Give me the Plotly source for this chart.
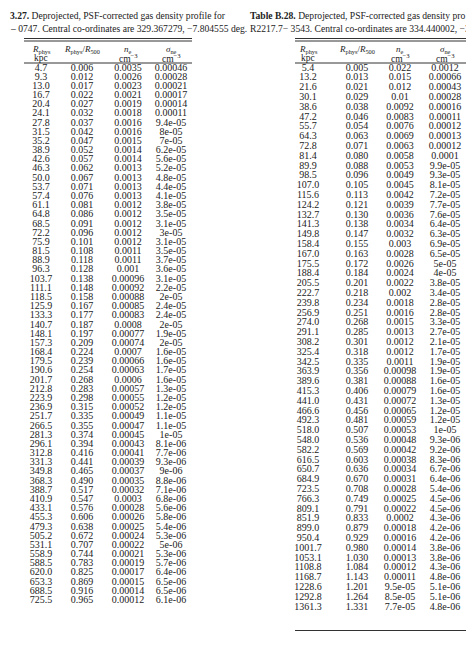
import plotly.graph_objects as go

# Table B.27 (left)
r_kpc_a = ["4.7", "9.3", "13.0", "16.7", "20.4", "24.1", "27.8", "31.5", "35.2", "38.9", "42.6", "46.3", "50.0",
           "53.7", "57.4", "61.1", "64.8", "68.5", "72.2", "75.9", "81.5", "88.9", "96.3", "103.7", "111.1", "118.5",
           "125.9", "133.3", "140.7", "148.1", "157.3", "168.4", "179.5", "190.6", "201.7", "212.8", "223.9", "236.9",
           "251.7", "266.5", "281.3", "296.1", "312.8", "331.3", "349.8", "368.3", "388.7", "410.9", "433.1", "455.3",
           "479.3", "505.2", "531.1", "558.9", "588.5", "620.0", "653.3", "688.5", "725.5"]
r_r500_a = ["0.006", "0.012", "0.017", "0.022", "0.027", "0.032", "0.037", "0.042", "0.047", "0.052", "0.057", "0.062",
            "0.067", "0.071", "0.076", "0.081", "0.086", "0.091", "0.096", "0.101", "0.108", "0.118", "0.128", "0.138",
            "0.148", "0.158", "0.167", "0.177", "0.187", "0.197", "0.209", "0.224", "0.239", "0.254", "0.268", "0.283",
            "0.298", "0.315", "0.335", "0.355", "0.374", "0.394", "0.416", "0.441", "0.465", "0.490", "0.517", "0.547",
            "0.576", "0.606", "0.638", "0.672", "0.707", "0.744", "0.783", "0.825", "0.869", "0.916", "0.965"]
ne_a = ["0.0035", "0.0026", "0.0023", "0.0021", "0.0019", "0.0018", "0.0016", "0.0016", "0.0015", "0.0014", "0.0014",
        "0.0013", "0.0013", "0.0013", "0.0013", "0.0012", "0.0012", "0.0012", "0.0012", "0.0012", "0.0011", "0.0011",
        "0.001", "0.00096", "0.00092", "0.00088", "0.00085", "0.00083", "0.0008", "0.00077", "0.00074", "0.0007",
        "0.00066", "0.00063", "0.0006", "0.00057", "0.00055", "0.00052", "0.00049", "0.00047", "0.00045", "0.00043",
        "0.00041", "0.00039", "0.00037", "0.00035", "0.00032", "0.0003", "0.00028", "0.00026", "0.00025", "0.00024",
        "0.00022", "0.00021", "0.00019", "0.00017", "0.00015", "0.00014", "0.00012"]
sig_a = ["0.00046", "0.00028", "0.00021", "0.00017", "0.00014", "0.00011", "9.4e-05", "8e-05", "7e-05", "6.2e-05",
         "5.6e-05", "5.2e-05", "4.8e-05", "4.4e-05", "4.1e-05", "3.8e-05", "3.5e-05", "3.1e-05", "3e-05", "3.1e-05",
         "3.5e-05", "3.7e-05", "3.6e-05", "3.1e-05", "2.2e-05", "2e-05", "2.4e-05", "2.4e-05", "2e-05", "1.9e-05",
         "2e-05", "1.6e-05", "1.6e-05", "1.7e-05", "1.6e-05", "1.3e-05", "1.2e-05", "1.2e-05", "1.1e-05", "1.1e-05",
         "1e-05", "8.1e-06", "7.7e-06", "9.3e-06", "9e-06", "8.8e-06", "7.1e-06", "6.8e-06", "5.6e-06", "5.8e-06",
         "5.4e-06", "5.3e-06", "5e-06", "5.3e-06", "5.7e-06", "6.4e-06", "6.5e-06", "6.5e-06", "6.1e-06"]

# Table B.28 (right)
r_kpc_b = ["5.4", "13.2", "21.6", "30.1", "38.6", "47.2", "55.7", "64.3", "72.8", "81.4", "89.9", "98.5", "107.0",
           "115.6", "124.2", "132.7", "141.3", "149.8", "158.4", "167.0", "175.5", "188.4", "205.5", "222.7", "239.8",
           "256.9", "274.0", "291.1", "308.2", "325.4", "342.5", "363.9", "389.6", "415.3", "441.0", "466.6", "492.3",
           "518.0", "548.0", "582.2", "616.5", "650.7", "684.9", "723.5", "766.3", "809.1", "851.9", "899.0", "950.4",
           "1001.7", "1053.1", "1108.8", "1168.7", "1228.6", "1292.8", "1361.3"]
r_r500_b = ["0.005", "0.013", "0.021", "0.029", "0.038", "0.046", "0.054", "0.063", "0.071", "0.080", "0.088", "0.096",
            "0.105", "0.113", "0.121", "0.130", "0.138", "0.147", "0.155", "0.163", "0.172", "0.184", "0.201", "0.218",
            "0.234", "0.251", "0.268", "0.285", "0.301", "0.318", "0.335", "0.356", "0.381", "0.406", "0.431", "0.456",
            "0.481", "0.507", "0.536", "0.569", "0.603", "0.636", "0.670", "0.708", "0.749", "0.791", "0.833", "0.879",
            "0.929", "0.980", "1.030", "1.084", "1.143", "1.201", "1.264", "1.331"]
ne_b = ["0.022", "0.015", "0.012", "0.01", "0.0092", "0.0083", "0.0076", "0.0069", "0.0063", "0.0058", "0.0053",
        "0.0049", "0.0045", "0.0042", "0.0039", "0.0036", "0.0034", "0.0032", "0.003", "0.0028", "0.0026", "0.0024",
        "0.0022", "0.002", "0.0018", "0.0016", "0.0015", "0.0013", "0.0012", "0.0012", "0.0011", "0.00098", "0.00088",
        "0.00079", "0.00072", "0.00065", "0.00059", "0.00053", "0.00048", "0.00042", "0.00038", "0.00034", "0.00031",
        "0.00028", "0.00025", "0.00022", "0.0002", "0.00018", "0.00016", "0.00014", "0.00013", "0.00012", "0.00011",
        "9.5e-05", "8.5e-05", "7.7e-05"]
sig_b = ["0.0012", "0.00066", "0.00043", "0.00028", "0.00016", "0.00011", "0.00012", "0.00013", "0.00012", "0.0001",
         "9.9e-05", "9.3e-05", "8.1e-05", "7.2e-05", "7.7e-05", "7.6e-05", "6.4e-05", "6.3e-05", "6.9e-05", "6.5e-05",
         "5e-05", "4e-05", "3.8e-05", "3.4e-05", "2.8e-05", "2.8e-05", "3.3e-05", "2.7e-05", "2.1e-05", "1.7e-05",
         "1.9e-05", "1.9e-05", "1.6e-05", "1.6e-05", "1.3e-05", "1.2e-05", "1.2e-05", "1e-05", "9.3e-06", "9.2e-06",
         "8.3e-06", "6.7e-06", "6.4e-06", "5.4e-06", "4.5e-06", "4.5e-06", "4.3e-06", "4.2e-06", "4.2e-06", "3.8e-06",
         "3.8e-06", "4.3e-06", "4.8e-06", "5.1e-06", "5.1e-06", "4.8e-06"]

headers_top = ["<i>R</i><sub>phys</sub>", "<i>R</i><sub>phys</sub>/<i>R</i><sub>500</sub>",
               "<i>n</i><sub>e</sub>", "<i>σ</i><sub>ne</sub>"]
headers_unit = ["kpc", "", "cm<sup>−3</sup>", "cm<sup>−3</sup>"]

W, H = 474, 654
FONT = "Liberation Serif"
INK = "#222"

fig = go.Figure()


def add_table(cols, centers, x0, x1, first_y, step, bottom_rule):
    for col, cx in zip(cols, centers):
        ys = [first_y + i * step for i in range(len(col))]
        fig.add_trace(go.Scatter(x=[cx] * len(col), y=ys, mode="text", text=col,
                                 textfont=dict(family=FONT, size=10, color=INK),
                                 hoverinfo="skip", showlegend=False))
    for top, unit, cx in zip(headers_top, headers_unit, centers):
        fig.add_annotation(x=cx, y=41, text=top, showarrow=False,
                           font=dict(family=FONT, size=9, color=INK))
        if unit:
            fig.add_annotation(x=cx, y=50, text=unit, showarrow=False,
                               font=dict(family=FONT, size=9.5, color=INK))
    for yy in [30.5, 33, 55] + ([bottom_rule] if bottom_rule else []):
        fig.add_shape(type="line", x0=x0, x1=x1, y0=yy, y1=yy,
                      line=dict(color="#333", width=1))


add_table([r_kpc_a, r_r500_a, ne_a, sig_a], [33, 74, 120, 163], 16, 184, 60, 9.18, None)
add_table([r_kpc_b, r_r500_b, ne_b, sig_b], [300, 349, 392, 437], 287, 458, 60, 9.8, 622.5)

titles = [
    (0, 7, "<b>3.27.</b> Deprojected, PSF-corrected gas density profile for"),
    (0, 20, "– 0747. Central co-ordinates are 329.367279, −7.804555 deg."),
    (240, 7, "<b>Table B.28.</b> Deprojected, PSF-corrected gas density pro"),
    (240, 20, "R2217.7− 3543. Central co-ordinates are 334.440002, −35.726"),
]
for tx, ty, txt in titles:
    fig.add_annotation(x=tx, y=ty, xanchor="left", yanchor="middle", showarrow=False,
                       text=txt, font=dict(family=FONT, size=9.6, color=INK))

fig.update_xaxes(range=[0, W], visible=False)
fig.update_yaxes(range=[H, 0], visible=False)
fig.update_layout(width=W, height=H, margin=dict(l=0, r=0, t=0, b=0),
                  paper_bgcolor="white", plot_bgcolor="white")
fig.write_html("out.html")
